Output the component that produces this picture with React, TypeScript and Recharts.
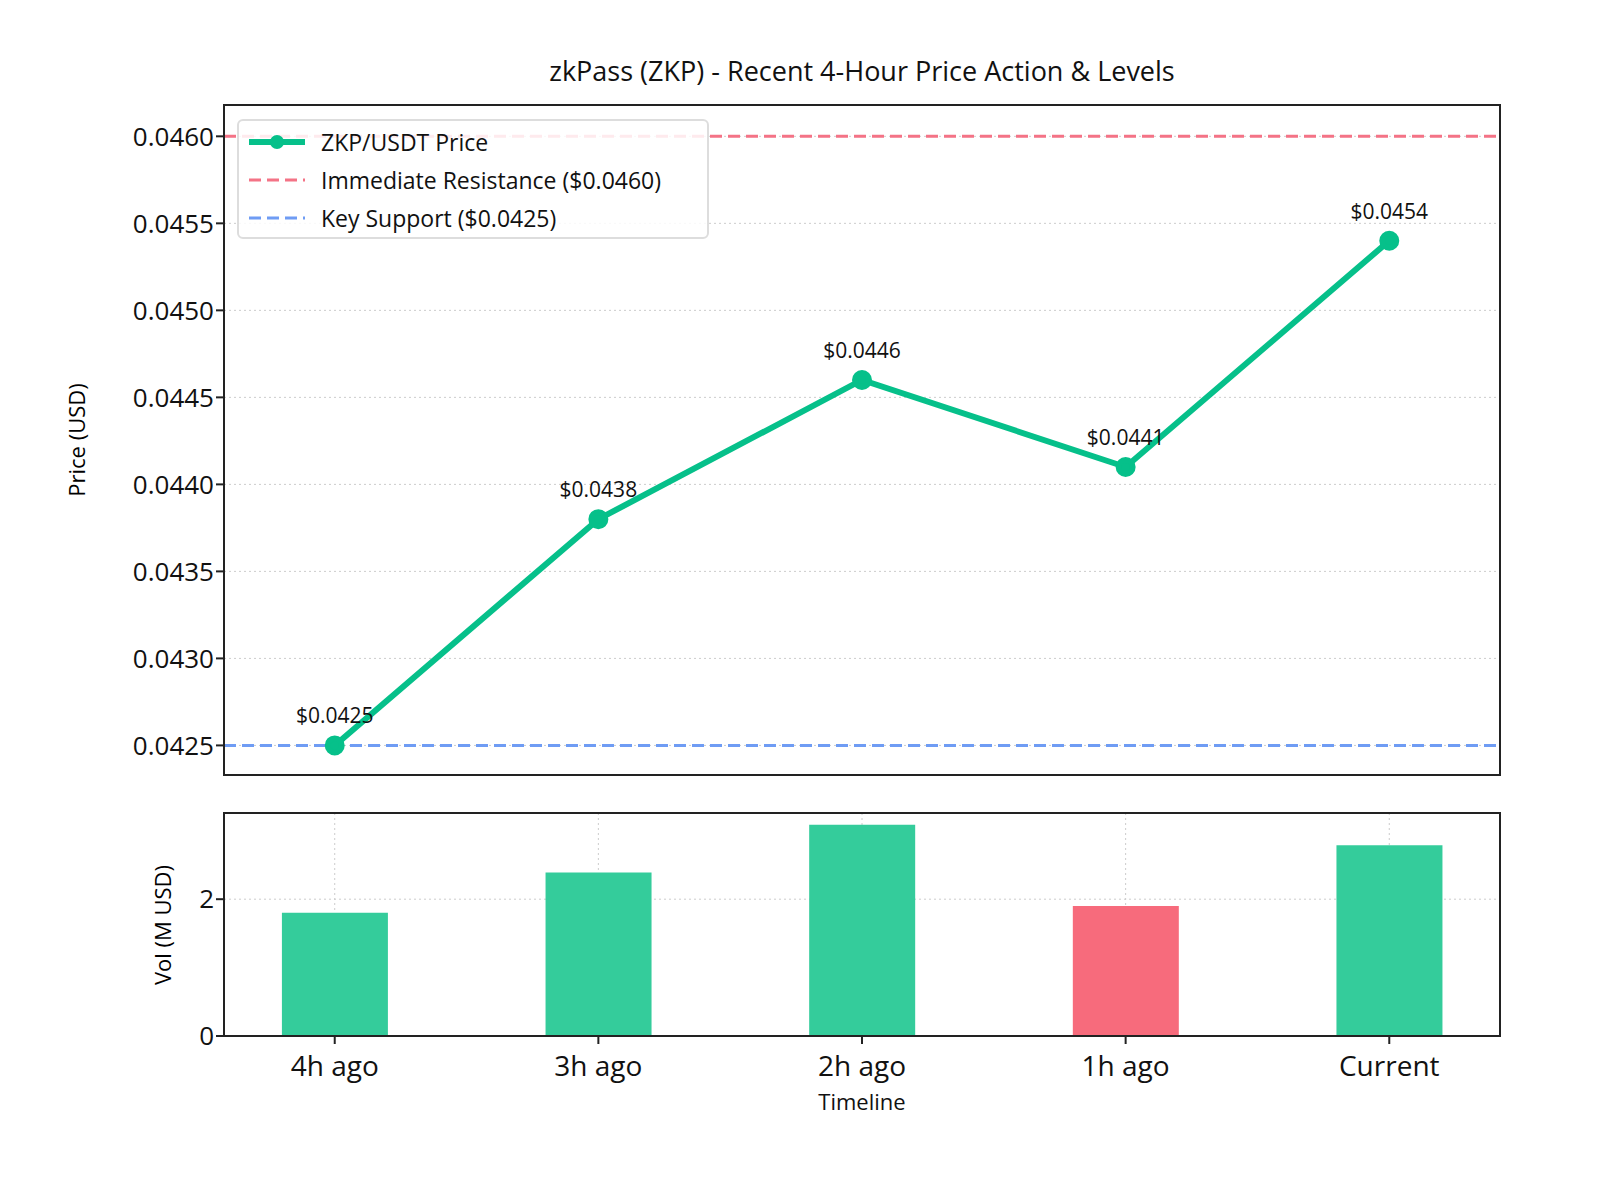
import React from "react";
import { ComposedChart, Line, Bar, Cell, XAxis, YAxis, CartesianGrid, ReferenceLine, LabelList } from "recharts";

const timeline = ["4h ago", "3h ago", "2h ago", "1h ago", "Current"];
const prices = [0.0425, 0.0438, 0.0446, 0.0441, 0.0454];
const volumes = [1.8, 2.39, 3.09, 1.9, 2.79];
const volumeColors = ["#34cc9b", "#34cc9b", "#34cc9b", "#f76b7c", "#34cc9b"];
const priceTicks = [0.0425, 0.043, 0.0435, 0.044, 0.0445, 0.045, 0.0455, 0.046];
const resistance = 0.046;
const support = 0.0425;

const data = timeline.map((t, i) => ({ i, t, price: prices[i], vol: volumes[i], color: volumeColors[i] }));
const FONT = "'Open Sans', Roboto, sans-serif";
const xDomain = [-0.42, 4.42];
const xTicks = [0, 1, 2, 3, 4];

export default function App() {
  const frame = (top: number, height: number) => (
    <div style={{ position: "absolute", left: 223, top: top - 1, width: 1278, height: height + 2, border: "2px solid #222", boxSizing: "border-box", pointerEvents: "none" }} />
  );
  return (
    <div style={{ position: "relative", width: 1600, height: 1200, marginLeft: -8, marginTop: -8, background: "#fff", fontFamily: FONT }}>
      <div style={{ position: "absolute", left: 0, width: 1724, top: 52, textAlign: "center", fontSize: 27, color: "#111" }}>
        zkPass (ZKP) - Recent 4-Hour Price Action &amp; Levels
      </div>
      <div style={{ position: "absolute", left: 0, top: 0 }}>
        <ComposedChart width={1600} height={820} data={data} margin={{ top: 105, right: 100, left: 124, bottom: 15 }}>
          <CartesianGrid stroke="#ccc" strokeDasharray="2 3" verticalValues={xTicks} horizontalValues={priceTicks} />
          <XAxis dataKey="i" type="number" domain={xDomain} ticks={xTicks} tick={false} tickSize={10} height={30} axisLine={false} tickLine={{ stroke: "#222", strokeWidth: 2 }} />
          <YAxis type="number" domain={[0.04233, 0.04618]} ticks={priceTicks} width={100} allowDataOverflow
            tickFormatter={(v: number) => v.toFixed(4)} tick={{ fontSize: 26, fill: "#111", fontFamily: FONT }}
            axisLine={false} tickLine={{ stroke: "#222", strokeWidth: 2 }} tickSize={8} />
          <ReferenceLine y={resistance} stroke="#f47386" strokeWidth={3} strokeDasharray="12 6" />
          <ReferenceLine y={support} stroke="#6f9cf4" strokeWidth={3} strokeDasharray="12 6" />
          <Line dataKey="price" stroke="#06c08a" strokeWidth={6} isAnimationActive={false}
            dot={{ r: 7, fill: "#06c08a", stroke: "#06c08a" }}>
            <LabelList dataKey="price" position="top" offset={22} formatter={(v: number) => `$${v.toFixed(4)}`}
              style={{ fontSize: 21, fill: "#111", fontFamily: FONT }} />
          </Line>
        </ComposedChart>
      </div>
      {frame(105, 670)}
      <div style={{ position: "absolute", left: 76, top: 440, transform: "translate(-50%,-50%) rotate(-90deg)", fontSize: 22, whiteSpace: "nowrap" }}>Price (USD)</div>
      <div style={{ position: "absolute", left: 237, top: 119, width: 472, height: 120, border: "2px solid #ddd", borderRadius: 6, background: "rgba(255,255,255,0.85)", boxSizing: "border-box", fontSize: 23, color: "#111" }}>
        {[
          { label: "ZKP/USDT Price", color: "#06c08a", dash: false },
          { label: "Immediate Resistance ($0.0460)", color: "#f47386", dash: true },
          { label: "Key Support ($0.0425)", color: "#6f9cf4", dash: true },
        ].map((e, k) => (
          <div key={k} style={{ position: "absolute", left: 8, top: 6 + k * 38, height: 30, display: "flex", alignItems: "center" }}>
            <svg width={60} height={20}>
              {e.dash ? <line x1={2} x2={58} y1={10} y2={10} stroke={e.color} strokeWidth={3} strokeDasharray="12 6" />
                : <><line x1={2} x2={58} y1={10} y2={10} stroke={e.color} strokeWidth={6} /><circle cx={30} cy={10} r={7} fill={e.color} /></>}
            </svg>
            <span style={{ marginLeft: 14 }}>{e.label}</span>
          </div>
        ))}
      </div>
      <div style={{ position: "absolute", left: 0, top: 780 }}>
        <ComposedChart width={1600} height={380} data={data} margin={{ top: 33, right: 100, left: 124, bottom: 14 }}>
          <CartesianGrid stroke="#ccc" strokeDasharray="2 3" verticalValues={xTicks} horizontalValues={[2]} />
          <XAxis dataKey="i" type="number" domain={xDomain} ticks={xTicks} height={110} axisLine={false}
            tickFormatter={(v: number) => timeline[v]} tick={{ fontSize: 28, fill: "#111", fontFamily: FONT, dy: 10 }}
            tickLine={{ stroke: "#222", strokeWidth: 2 }} tickSize={8}
            label={{ value: "Timeline", position: "insideTop", offset: 58, style: { fontSize: 22, fill: "#111", fontFamily: FONT } }} />
          <YAxis type="number" domain={[0, 3.26]} ticks={[0, 2]} width={100} allowDataOverflow
            tick={{ fontSize: 26, fill: "#111", fontFamily: FONT }} axisLine={false} tickLine={{ stroke: "#222", strokeWidth: 2 }} tickSize={8} />
          <Bar dataKey="vol" barSize={106} isAnimationActive={false}>
            {data.map((d, k) => <Cell key={k} fill={d.color} />)}
          </Bar>
        </ComposedChart>
      </div>
      {frame(813, 223)}
      <div style={{ position: "absolute", left: 162, top: 925, transform: "translate(-50%,-50%) rotate(-90deg)", fontSize: 22, whiteSpace: "nowrap" }}>Vol (M USD)</div>
    </div>
  );
}
